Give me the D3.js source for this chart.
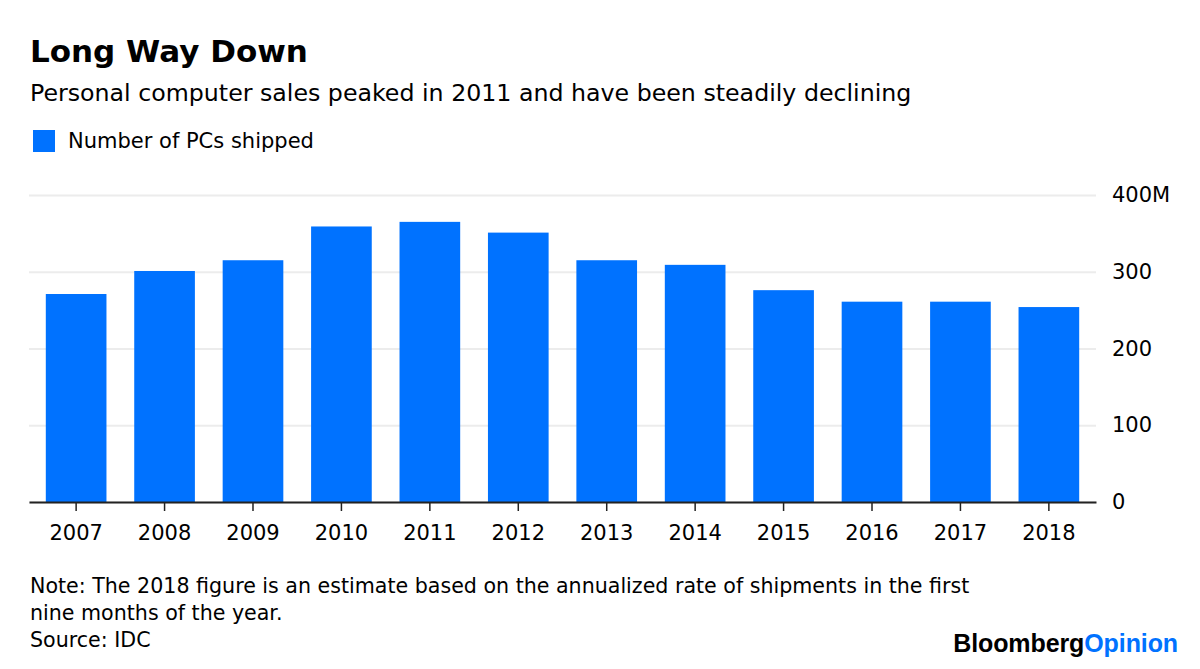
<!DOCTYPE html>
<html lang="en">
<head>
  <meta charset="UTF-8">
  <script src="https://cdn.jsdelivr.net/npm/d3@7/dist/d3.min.js"></script>
  <title>Long Way Down</title>
  <style>
    body { margin: 0; background: #fff; }
    text { font-family: "DejaVu Sans", sans-serif; fill: #000; }
  </style>
</head>
<body>
  <script>
    const years = ['2007', '2008', '2009', '2010', '2011', '2012', '2013', '2014', '2015', '2016', '2017', '2018']
    const shipped = [271, 301, 315, 359, 365, 351, 315, 309, 276, 261, 261, 254]
    const yTicks = [0, 100, 200, 300, 400]
    const noteLines = [
      'Note: The 2018 figure is an estimate based on the annualized rate of shipments in the first',
      'nine months of the year.',
      'Source: IDC'
    ]

    const width = 1200, height = 669
    const margin = ({top: 195, right: 104, bottom: 167, left: 29})
    const blue = '#0072ff'

    const svg = d3.select('body').append('svg')
        .attr('width', width)
        .attr('height', height)

    // header
    svg.append('text')
        .attr('x', 30).attr('y', 62)
        .attr('font-size', 31).attr('font-weight', 'bold')
        .text('Long Way Down')

    svg.append('text')
        .attr('x', 30).attr('y', 101)
        .attr('font-size', 23.7)
        .text('Personal computer sales peaked in 2011 and have been steadily declining')

    svg.append('rect')
        .attr('x', 33).attr('y', 130)
        .attr('width', 22).attr('height', 22)
        .attr('fill', blue)
    svg.append('text')
        .attr('x', 68).attr('y', 148)
        .attr('font-size', 21)
        .text('Number of PCs shipped')

    const x = d3.scaleBand()
        .domain(years)
        .range([margin.left, width - margin.right])
        .paddingInner(0.314)
        .paddingOuter(0.19)

    const y = d3.scaleLinear()
        .domain([0, 400])
        .range([height - margin.bottom, margin.top])

    // gridlines + right labels
    const yAxis = g => g
        .attr('transform', `translate(${width - margin.right},0)`)
        .call(d3.axisRight(y).tickValues(yTicks)
          .tickSize(-(width - margin.right - margin.left))
          .tickPadding(16)
          .tickFormat(d => d === 400 ? '400M' : d))
        .call(g => g.select('.domain').remove())
        .call(g => g.selectAll('.tick line').attr('stroke', '#ececec').attr('stroke-width', 2))
        .call(g => g.selectAll('.tick text').attr('font-size', 21).attr('font-family', null))

    svg.append('g').call(yAxis)

    svg.append('g')
      .selectAll('rect')
      .data(shipped)
      .join('rect')
        .attr('x', (d, i) => x(years[i]))
        .attr('y', d => y(d))
        .attr('width', x.bandwidth())
        .attr('height', d => y(0) - y(d))
        .attr('fill', blue)

    const xAxis = g => g
        .attr('transform', `translate(0,${height - margin.bottom})`)
        .call(d3.axisBottom(x).tickSize(9).tickPadding(14).tickSizeOuter(0))
        .call(g => g.select('.domain').attr('stroke', '#222').attr('stroke-width', 2))
        .call(g => g.selectAll('.tick line').attr('stroke', '#222').attr('stroke-width', 1.5))
        .call(g => g.selectAll('.tick text').attr('font-size', 21).attr('font-family', null))

    svg.append('g').call(xAxis)

    // footer
    svg.append('g')
      .selectAll('text')
      .data(noteLines)
      .join('text')
        .attr('x', 30)
        .attr('y', (d, i) => 593 + i * 27)
        .attr('font-size', 20.6)
        .text(d => d)

    const logo = svg.append('text')
        .attr('x', 1178).attr('y', 652)
        .attr('text-anchor', 'end')
        .style('font-family', '"Liberation Sans", Arial, sans-serif')
        .attr('font-size', 25).attr('font-weight', 'bold')
        .attr('letter-spacing', -0.1)
    logo.append('tspan').text('Bloomberg')
    logo.append('tspan').attr('fill', blue).text('Opinion')
  </script>
</body>
</html>
